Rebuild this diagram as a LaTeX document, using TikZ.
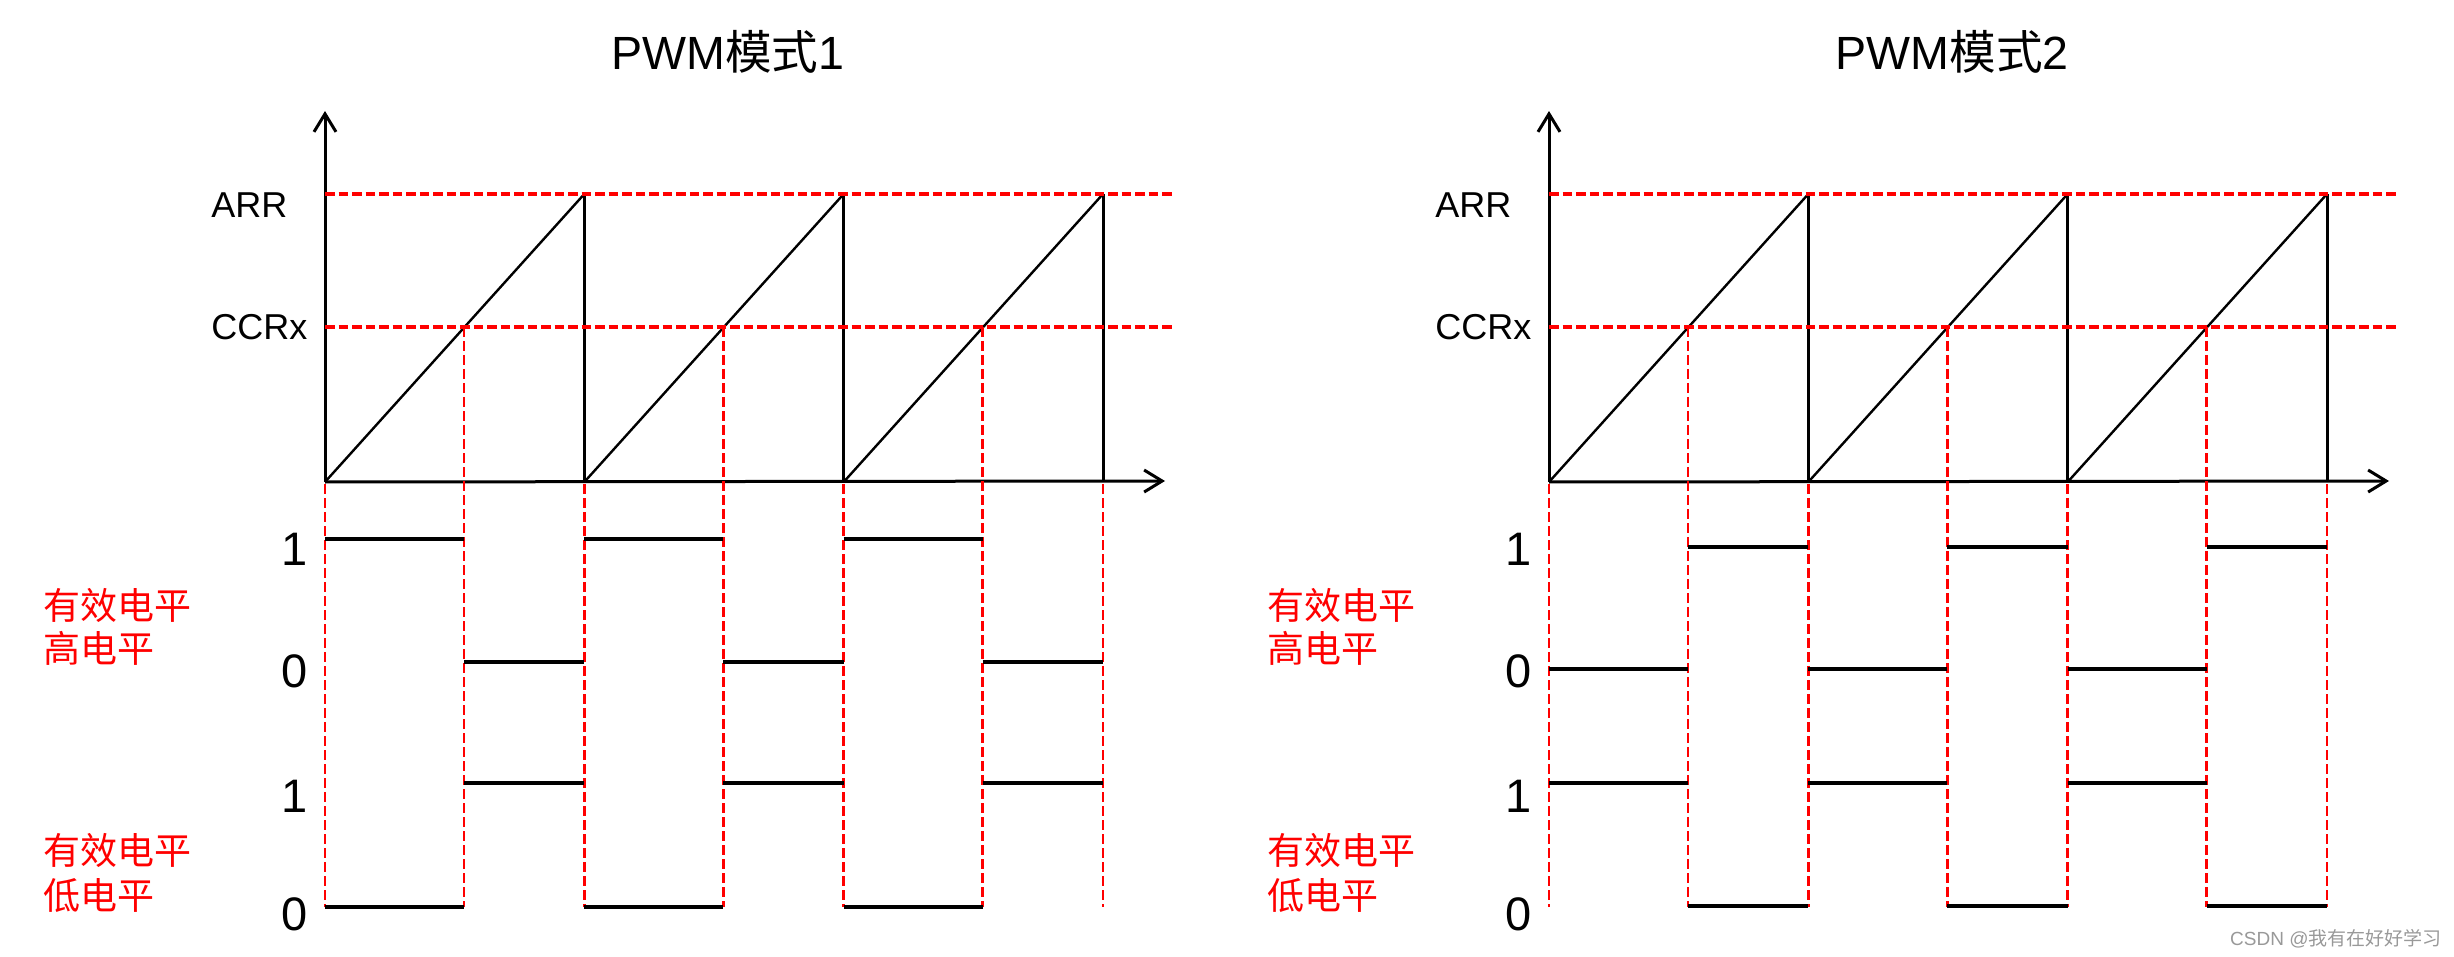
\documentclass[tikz,border=0pt]{standalone}
\usepackage{fontspec}
\setmainfont{Liberation Sans}
\newfontfamily\cjk{Noto Sans CJK SC}
\usetikzlibrary{arrows.meta}
\newcommand{\pwmpanel}[7]{%
% #1 x offset (px), #2 title digit, #3/#4 upper level y during on/off part,
% #5/#6 lower level y during on/off part, #7 name prefix
\begin{scope}[xshift=#1*0.5pt]
  \foreach \i in {0,1,2,3} {
    \coordinate (#7s\i) at ({325+\i*259.33},482);
    \coordinate (#7t\i) at ({325+\i*259.33},194);
    \coordinate (#7b\i) at ({325+\i*259.33},907);
  }
  \foreach \i in {0,1,2} {
    \coordinate (#7c\i) at ({464+\i*259.33},327);
    \coordinate (#7cb\i) at ({464+\i*259.33},907);
  }
  \coordinate (#7o) at (325,482);
  \coordinate (#7yt) at (325,111);
  \coordinate (#7xe) at (1165,481);
  \coordinate (#7arrL) at (325,194);
  \coordinate (#7arrR) at (1173,194);
  \coordinate (#7ccrL) at (325,327);
  \coordinate (#7ccrR) at (1173,327);
  % sawtooth
  \foreach \i/\j in {0/1,1/2,2/3} {
    \draw[saw] (#7s\i) -- (#7t\j);
    \draw[peak] (#7t\j) -- (#7s\j);
  }
  % axes
  \draw[axis] (#7o) -- (#7yt);
  \draw[axis] (#7o) -- (#7xe);
  % red dashed guides
  \draw[reddash] (#7arrL) -- (#7arrR);
  \draw[reddash] (#7ccrL) -- (#7ccrR);
  \foreach \i in {0,1,2,3} {\draw[reddashv] ([yshift=-1pt]#7s\i) -- (#7b\i);}
  \foreach \i in {0,1,2} {\draw[reddashv] (#7c\i) -- (#7cb\i);}
  % output levels
  \foreach \i/\j in {0/1,1/2,2/3} {
    \draw[level] (#7s\i |- 0,#3) -- (#7c\i |- 0,#3);
    \draw[level] (#7c\i |- 0,#4) -- (#7s\j |- 0,#4);
    \draw[level] (#7s\i |- 0,#5) -- (#7c\i |- 0,#5);
    \draw[level] (#7c\i |- 0,#6) -- (#7s\j |- 0,#6);
  }
  % texts
  \node[txt, font=\fontsize{23.3}{28}\selectfont] (#7title) at (728,70) {PWM{\cjk 模式}#2};
  \node[txt, anchor=base west, font=\fontsize{18}{22}\selectfont] (#7arr) at (211,218) {ARR};
  \node[txt, anchor=base west, font=\fontsize{18}{22}\selectfont] (#7ccr) at (211,340) {CCRx};
  \node[txt, font=\fontsize{23.5}{28}\selectfont] (#7d1) at (295,565) {1};
  \node[txt, font=\fontsize{23.5}{28}\selectfont] (#7d2) at (295,687) {0};
  \node[txt, font=\fontsize{23.5}{28}\selectfont] (#7d3) at (295,812) {1};
  \node[txt, font=\fontsize{23.5}{28}\selectfont] (#7d4) at (295,930) {0};
  \node[redtxt] (#7r1) at (43,619) {有效电平};
  \node[redtxt] (#7r2) at (43,662) {高电平};
  \node[redtxt] (#7r3) at (43,864) {有效电平};
  \node[redtxt] (#7r4) at (43,909) {低电平};
\end{scope}}
\begin{document}
\begin{tikzpicture}[x=0.5pt,y=-0.5pt,
  axis/.style={line width=1.5pt,-{Straight Barb[length=9pt,width=11pt,line width=1.5pt]}},
  saw/.style={line width=1.2pt},
  peak/.style={line width=1.5pt},
  reddash/.style={draw=red,line width=1.6pt,dash pattern=on 4.75pt off 2pt},
  reddashv/.style={draw=red,line width=1.3pt,dash pattern=on 5pt off 2pt},
  level/.style={line width=1.7pt},
  txt/.style={inner sep=0pt,anchor=base},
  redtxt/.style={inner sep=0pt,anchor=base west,text=red,font=\cjk\fontsize{18.5}{22}\selectfont},
  wm/.style={inner sep=0pt,anchor=base east,text=black!40,font=\fontsize{9.5}{11}\selectfont}]
\fill[white] (0,0) rectangle (2454,957);
\useasboundingbox (0,0) rectangle (2454,957);
\pwmpanel{0}{1}{539}{662}{907}{783}{L}
\pwmpanel{1224}{2}{669}{547}{783}{906}{R}
\node[wm] (wmark) at (2442,945) {CSDN @{\cjk 我有在好好学习}};
\end{tikzpicture}
\end{document}
